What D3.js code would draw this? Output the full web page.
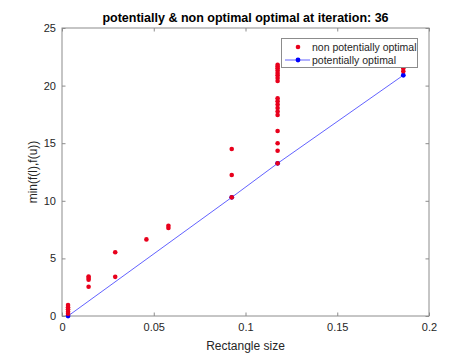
<!DOCTYPE html>
<html><head><meta charset="utf-8">
<script src="https://cdn.jsdelivr.net/npm/d3@7"></script>
<style>body{margin:0;background:#fff}svg{display:block}text{font-family:"Liberation Sans",Arial,sans-serif}</style>
</head><body>
<script>
const titleText = "potentially & non optimal optimal at iteration: 36";
const xLabel = "Rectangle size";
const yLabel = "min(f(l),f(u))";
const xTicks = [0, 0.05, 0.1, 0.15, 0.2];
const yTicks = [0, 5, 10, 15, 20, 25];
const legendLabels = ["non potentially optimal", "potentially optimal"];

// non potentially optimal (red)
const redX = [0.0033,0.0033,0.0033,0.0033,0.0033,
  0.0145,0.0145,0.0145,0.0145,
  0.029,0.029,
  0.046,
  0.058,0.058,
  0.0925,0.0925,0.0925,
  0.1175,0.1175,0.1175,0.1175,0.1175,0.1175,0.1175,0.1175,0.1175,0.1175,0.1175,0.1175,0.1175,0.1175,0.1175,0.1175,0.1175,0.1175,
  0.186,0.186];
const redY = [0.2,0.37,0.58,0.76,0.95,
  2.54,3.15,3.3,3.43,
  3.4,5.53,
  6.65,
  7.64,7.84,
  10.3,12.24,14.5,
  13.25,14.35,15.0,16.06,17.45,17.75,18.05,18.35,18.65,18.9,20.4,20.65,20.9,21.1,21.3,21.5,21.65,21.8,
  21.25,21.5];
// potentially optimal (blue)
const blueX = [0.0033, 0.0925, 0.1175, 0.186];
const blueY = [0, 10.3, 13.25, 20.9];

const W = 474, H = 355;
const m = {l:62, r:45, t:28, b:39};
const svg = d3.select("body").append("svg").attr("width", W).attr("height", H);
const x = d3.scaleLinear().domain([0, 0.2]).range([m.l, W - m.r]);
const y = d3.scaleLinear().domain([0, 25]).range([H - m.b, m.t]);
const axisCol = "#8c8c8c", textCol = "#262626";
const tl = 3.5;

svg.append("rect").attr("x", m.l).attr("y", m.t).attr("width", x(0.2)-m.l).attr("height", y(0)-m.t)
  .attr("fill", "#fff").attr("stroke", axisCol).attr("stroke-width", 1);

function styleAxis(g){
  g.select(".domain").remove();
  g.selectAll(".tick line").attr("stroke", axisCol);
  g.selectAll(".tick text").attr("fill", textCol).style("font-size", "11px").style("font-family", '"Liberation Sans",Arial,sans-serif');
}
svg.append("g").attr("transform", `translate(0,${y(0)})`)
  .call(d3.axisBottom(x).tickValues(xTicks).tickFormat(d => d3.format("")(d)).tickSizeInner(-tl).tickPadding(7))
  .call(styleAxis);
svg.append("g").attr("transform", `translate(0,${y(25)})`)
  .call(d3.axisTop(x).tickValues(xTicks).tickFormat("").tickSizeInner(-tl))
  .call(styleAxis);
svg.append("g").attr("transform", `translate(${x(0)},0)`)
  .call(d3.axisLeft(y).tickValues(yTicks).tickSizeInner(-tl).tickPadding(6))
  .call(styleAxis);
svg.append("g").attr("transform", `translate(${x(0.2)},0)`)
  .call(d3.axisRight(y).tickValues(yTicks).tickFormat("").tickSizeInner(-tl))
  .call(styleAxis);

// blue line
const bluePts = blueX.map((d,i)=>[d, blueY[i]]);
svg.append("path").datum(bluePts)
  .attr("d", d3.line().x(d=>x(d[0])).y(d=>y(d[1])))
  .attr("fill","none").attr("stroke","#3a3aff").attr("stroke-width",0.8);
svg.selectAll(".bp").data(bluePts).enter().append("circle")
  .attr("cx", d=>x(d[0])).attr("cy", d=>y(d[1])).attr("r", 2.4).attr("fill", "#0000ff");

// red points
svg.selectAll(".rp").data(redX.map((d,i)=>[d, redY[i]])).enter().append("circle")
  .attr("cx", d=>x(d[0])).attr("cy", d=>y(d[1])).attr("r", 2.3).attr("fill", "#e8001c");

// title & labels
svg.append("text").attr("x", (x(0)+x(0.2))/2).attr("y", 21.5).attr("text-anchor","middle")
  .attr("fill","#000").style("font-size","12.5px").style("font-weight","bold").text(titleText);
svg.append("text").attr("x", (x(0)+x(0.2))/2).attr("y", 350).attr("text-anchor","middle")
  .attr("fill",textCol).style("font-size","12px").text(xLabel);
svg.append("text").attr("transform", `translate(37,${(y(0)+y(25))/2}) rotate(-90)`).attr("text-anchor","middle")
  .attr("fill",textCol).style("font-size","12px").text(yLabel);

// legend
const lg = svg.append("g");
lg.append("rect").attr("x", 281.5).attr("y", 38.5).attr("width", 136).attr("height", 29)
  .attr("fill","#fff").attr("stroke", axisCol).attr("stroke-width",1);
lg.append("circle").attr("cx", 298).attr("cy", 47).attr("r", 2.3).attr("fill","#e8001c");
lg.append("line").attr("x1", 285).attr("x2", 310).attr("y1", 60).attr("y2", 60).attr("stroke","#3a3aff").attr("stroke-width",0.8);
lg.append("circle").attr("cx", 298).attr("cy", 60).attr("r", 2.4).attr("fill","#0000ff");
lg.append("text").attr("x", 312).attr("y", 50.5).attr("fill",textCol).style("font-size","10.5px").text(legendLabels[0]);
lg.append("text").attr("x", 312).attr("y", 63.5).attr("fill",textCol).style("font-size","10.5px").text(legendLabels[1]);
</script>
</body></html>
